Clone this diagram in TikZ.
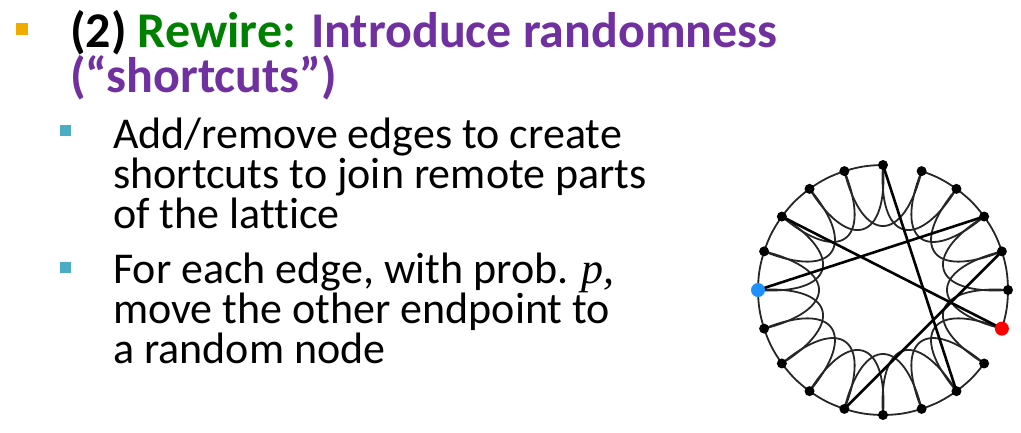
\documentclass[tikz,border=0pt]{standalone}
\usepackage{fontspec}
\usetikzlibrary{calc}
\setmainfont{Carlito}[Ligatures=NoCommon]
\newfontfamily\serifit{Liberation Serif}
\definecolor{tgreen}{RGB}{0,128,0}
\definecolor{tpurple}{RGB}{112,48,160}
\definecolor{torange}{RGB}{240,170,0}
\definecolor{tteal}{RGB}{75,172,198}
\begin{document}
\begin{tikzpicture}[x=1pt,y=-1pt,
  txt/.style={anchor=base west,inner sep=0pt,font=\fontsize{44}{46}\selectfont},
  ttl/.style={anchor=base west,inner sep=0pt,font=\fontsize{50}{52}\selectfont\bfseries},
  dot/.style={circle,fill=black,inner sep=0pt,minimum size=10pt},
  lat/.style={line width=1.8pt,black!85},
  sc/.style={line width=2.6pt,black}]
\useasboundingbox (0,0) rectangle (1021,432);
\fill[torange] (16,23) rectangle (28,35);
\node[ttl] (t1) at (70,47) {(2) \textcolor{tgreen}{Rewire:} \textcolor{tpurple}{Introduce randomness}};
\node[ttl,text=tpurple] (t2) at (70,92) {(“shortcuts”)};
\fill[tteal] (60,125) rectangle (71,136);
\node[txt] (a1) at (113,148) {Add/remove edges to create};
\node[txt] (a2) at (113,188) {shortcuts to join remote parts};
\node[txt] (a3) at (113,228) {of the lattice};
\fill[tteal] (60,262) rectangle (71,273);
\node[txt] (b1) at (113,283) {For each edge, with prob. {\serifit\itshape p,}};
\node[txt] (b2) at (113,323) {move the other endpoint to};
\node[txt] (b3) at (113,363) {a random node};
% graph
\coordinate (c) at (883,290);
\foreach \i in {0,...,19}{
  \pgfmathsetmacro\ang{90-18*\i}
  \coordinate (n\i) at ($(c)+(\ang:125 and -125)$);
}
\foreach \i in {0,...,19}{
  \pgfmathtruncatemacro\j{mod(\i+1,20)}
  \pgfmathtruncatemacro\k{mod(\i+2,20)}
  \pgfmathsetmacro\a{90-18*\i+6}
  \pgfmathsetmacro\b{90-18*(\i+2)-6}
  \ifnum\i=0\else\ifnum\i=6\else
  \draw[lat] (n\i) to[bend left=8] (n\j);
  \fi\fi
  \draw[lat] (n\i) .. controls ($(c)+(\a:50 and -50)$) and ($(c)+(\b:50 and -50)$) .. (n\k);
}
\draw[sc] (n17) -- (n6);
\draw[sc] (n0) -- (n8);
\draw[sc] (n15) -- (n3);
\draw[sc] (n11) -- (n4);
\foreach \i in {0,...,19}{\node[dot] (d\i) at (n\i) {};}
\node[dot,fill={rgb,255:red,30;green,144;blue,255},minimum size=14pt] (blue) at (n15) {};
\node[dot,fill=red,minimum size=14pt] (red) at (n6) {};
\end{tikzpicture}
\end{document}
